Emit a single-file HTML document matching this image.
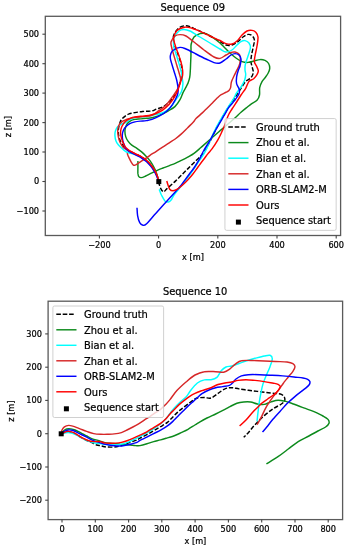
<!DOCTYPE html>
<html><head><meta charset="utf-8"><title>Trajectories</title>
<style>html,body{margin:0;padding:0;background:#fff}body{width:350px;height:550px;overflow:hidden}svg{display:block}</style></head>
<body>
<svg width="350" height="550" viewBox="0 0 350 550" font-family="'DejaVu Sans','Liberation Sans',sans-serif" fill="#000">
<style>text{stroke:#000;stroke-width:0.22px;paint-order:stroke}</style>
<rect width="350" height="550" fill="#fff"/>
<g fill="none" stroke-width="1.45" stroke-linejoin="round" stroke-linecap="butt">
<path d="M158.8 181.6C158.6 180.9 158.1 178.9 157.5 177.2C156.9 175.5 156.2 173.5 155.2 171.6C154.2 169.7 152.8 167.7 151.4 165.9C150.0 164.1 148.5 162.4 146.9 160.9C145.3 159.4 143.7 158.3 141.8 157.1C139.9 155.9 137.6 154.9 135.5 153.9C133.4 152.9 131.0 151.9 129.2 150.8C127.4 149.8 126.0 149.0 124.6 147.6C123.2 146.2 121.8 144.0 120.8 142.2C119.8 140.4 119.3 138.5 118.9 136.6C118.5 134.7 118.2 132.8 118.3 130.9C118.3 129.0 118.7 127.0 119.2 125.2C119.7 123.4 120.2 121.4 121.1 120.0C122.0 118.6 123.3 117.6 124.6 116.6C125.9 115.6 127.4 114.6 129.1 113.9C130.8 113.2 133.0 112.9 134.9 112.6C136.8 112.2 138.7 112.0 140.6 111.8C142.5 111.6 144.4 111.3 146.3 111.2C148.2 111.1 150.2 111.3 152.0 110.9C153.8 110.5 155.0 109.5 156.9 108.8C158.8 108.1 161.2 107.9 163.4 106.6C165.6 105.3 168.4 102.8 170.3 100.9C172.2 99.1 173.4 97.3 174.6 95.5C175.8 93.7 176.7 92.0 177.6 89.8C178.5 87.5 179.5 84.3 180.2 82.0C180.9 79.7 181.7 78.0 182.0 76.0C182.3 74.0 182.4 72.3 182.2 70.0C182.0 67.7 181.3 64.6 180.6 62.0C179.9 59.4 179.0 57.2 178.1 54.5C177.2 51.8 175.8 48.8 175.0 46.0C174.2 43.2 173.3 40.2 173.3 38.0C173.3 35.8 173.9 34.6 174.8 32.9C175.7 31.2 177.3 29.1 178.9 27.9C180.5 26.7 182.8 26.0 184.6 25.8C186.4 25.6 188.4 26.1 190.0 26.6C191.6 27.1 192.3 27.8 194.0 28.6C195.7 29.4 197.3 30.0 200.0 31.2C202.7 32.4 206.7 34.3 210.0 36.0C213.3 37.7 217.3 40.1 220.0 41.6C222.7 43.1 224.0 44.4 226.0 45.0C228.0 45.6 230.0 45.6 232.0 45.0C234.0 44.4 236.2 42.9 238.0 41.6C239.8 40.3 241.3 38.2 243.0 37.0C244.7 35.8 246.5 34.6 248.0 34.4C249.5 34.2 250.9 34.7 252.0 35.6C253.1 36.5 254.2 37.9 254.4 40.0C254.6 42.1 253.5 45.3 253.0 48.0C252.5 50.7 251.7 53.7 251.4 56.0C251.1 58.3 250.8 59.9 251.0 62.0C251.2 64.1 252.2 66.8 252.6 68.6C253.0 70.4 253.5 71.4 253.2 73.0C252.9 74.6 251.9 76.6 250.7 78.0C249.4 79.4 247.3 79.7 245.7 81.4C244.1 83.1 242.5 86.0 241.0 88.3C239.5 90.6 238.1 92.7 236.6 95.0C235.1 97.3 233.5 99.7 232.0 102.0C230.5 104.3 229.1 106.3 227.4 109.0C225.7 111.7 223.9 114.7 222.0 118.0C220.1 121.3 218.1 125.0 216.0 129.0C213.9 133.0 211.9 137.9 209.7 142.0C207.5 146.1 205.8 149.8 203.0 153.4C200.2 157.0 196.0 160.5 192.9 163.7C189.8 166.8 187.2 169.4 184.3 172.3C181.4 175.2 178.6 178.2 175.7 180.9C172.8 183.6 169.0 186.8 167.0 188.6C165.0 190.4 164.7 191.8 163.7 191.8C162.7 191.8 161.6 190.1 160.8 188.6C160.0 187.1 159.1 183.9 158.8 183.0" stroke="#000" stroke-dasharray="4.4 1.9"/>
<path d="M158.8 181.6C158.6 180.8 158.2 178.8 157.7 177.0C157.2 175.2 156.4 172.8 155.7 170.9C154.9 169.1 154.1 167.6 153.2 165.9C152.3 164.2 151.2 162.5 150.1 160.9C148.9 159.3 147.7 158.0 146.3 156.5C144.9 155.0 143.5 153.5 141.9 152.1C140.3 150.7 138.6 149.5 136.9 148.3C135.2 147.1 133.3 146.3 131.8 145.1C130.3 143.9 129.0 142.5 128.0 141.1C127.0 139.7 126.2 138.3 125.7 136.6C125.2 134.9 124.9 132.5 124.9 130.9C124.9 129.3 125.3 128.2 125.7 126.9C126.1 125.7 126.5 124.5 127.4 123.4C128.3 122.4 129.7 121.3 130.9 120.6C132.2 119.9 133.3 119.7 134.9 119.4C136.5 119.1 138.7 119.1 140.6 118.9C142.5 118.7 144.4 118.5 146.3 118.3C148.2 118.1 149.9 118.2 152.0 117.7C154.1 117.2 156.2 116.7 158.9 115.6C161.6 114.5 165.3 112.5 168.0 111.0C170.7 109.5 172.9 108.5 174.9 106.6C176.9 104.7 178.7 102.0 180.0 99.7C181.3 97.4 182.0 94.9 182.9 92.9C183.8 90.9 184.8 89.3 185.7 87.7C186.5 86.1 187.3 84.8 188.0 83.1C188.7 81.4 189.3 79.5 189.7 77.4C190.1 75.3 190.2 72.9 190.3 70.6C190.5 68.3 190.5 66.0 190.6 63.7C190.7 61.4 190.8 59.2 190.9 56.9C191.0 54.6 190.9 52.1 191.0 50.0C191.1 47.9 190.7 46.2 191.2 44.0C191.7 41.8 192.5 38.7 194.0 37.0C195.5 35.3 198.0 34.2 200.0 33.6C202.0 33.0 204.0 33.0 206.0 33.6C208.0 34.2 209.7 35.4 212.0 37.0C214.3 38.6 218.0 41.3 220.0 43.0C222.0 44.7 222.3 45.3 224.0 47.0C225.7 48.7 228.0 51.2 230.0 53.0C232.0 54.8 234.0 56.6 236.0 58.0C238.0 59.4 240.0 60.9 242.0 61.6C244.0 62.3 246.0 62.5 248.0 62.4C250.0 62.3 252.0 61.5 254.0 61.0C256.0 60.5 258.2 59.7 260.0 59.6C261.8 59.5 263.6 59.8 265.0 60.4C266.4 61.0 267.8 62.1 268.6 63.5C269.4 64.9 269.8 67.0 269.7 68.6C269.6 70.2 268.9 71.6 268.2 73.0C267.5 74.4 266.6 75.6 265.6 77.0C264.6 78.4 263.0 79.8 262.0 81.6C261.0 83.4 260.1 85.5 259.7 87.7C259.3 89.9 259.9 92.9 259.5 95.0C259.1 97.1 258.4 98.8 257.0 100.3C255.7 101.8 253.0 102.7 251.4 103.8C249.8 104.9 249.1 105.6 247.4 107.0C245.7 108.4 243.1 110.5 241.0 112.3C238.9 114.1 237.5 115.7 234.9 118.0C232.3 120.3 228.4 123.7 225.7 126.0C223.0 128.3 221.6 129.4 218.9 131.7C216.2 134.0 212.8 137.0 209.7 139.7C206.6 142.4 203.2 145.5 200.6 147.8C198.0 150.1 196.2 151.8 194.0 153.4C191.8 155.0 189.8 156.0 187.7 157.2C185.6 158.4 183.5 159.4 181.4 160.4C179.3 161.4 177.3 162.4 175.2 163.3C173.1 164.2 170.9 165.0 168.9 165.8C166.9 166.6 164.8 167.3 163.0 168.0C161.2 168.7 160.1 169.1 158.3 169.9C156.5 170.7 154.1 171.8 152.0 172.8C149.9 173.8 147.5 175.2 145.7 176.0C143.9 176.8 142.5 177.5 141.3 177.6C140.2 177.7 139.4 177.3 138.8 176.6C138.2 175.9 138.1 175.0 137.9 173.4C137.8 171.8 137.9 169.3 137.9 167.2C137.9 165.1 137.9 161.9 137.9 160.9" stroke="#0c8a1c"/>
<path d="M158.8 181.6C158.6 180.9 158.1 178.8 157.5 177.2C156.9 175.5 156.1 173.6 155.1 171.7C154.1 169.8 152.7 167.8 151.3 166.0C149.9 164.2 148.3 162.5 146.7 161.1C145.1 159.7 143.5 158.5 141.6 157.4C139.7 156.3 137.2 155.2 135.0 154.4C132.8 153.6 129.7 153.2 128.1 152.7C126.5 152.2 126.5 152.1 125.5 151.4C124.5 150.7 123.0 149.4 121.8 148.3C120.6 147.2 119.3 146.0 118.3 144.8C117.3 143.6 116.6 142.7 116.0 141.1C115.4 139.5 115.0 137.1 114.9 135.4C114.8 133.7 115.0 132.3 115.4 130.9C115.9 129.5 116.7 127.9 117.6 126.8C118.5 125.7 119.7 125.1 121.0 124.4C122.3 123.7 123.9 123.4 125.5 122.6C127.1 121.8 129.0 120.2 130.6 119.4C132.2 118.6 133.2 118.0 134.9 117.6C136.6 117.2 138.5 117.1 140.6 116.9C142.7 116.7 144.7 116.8 147.4 116.4C150.1 116.0 153.9 115.1 156.6 114.4C159.3 113.7 161.1 113.4 163.4 112.3C165.7 111.2 168.2 109.8 170.3 107.7C172.4 105.6 174.2 102.4 176.0 99.7C177.8 97.0 180.2 94.3 181.4 91.7C182.6 89.1 182.8 86.5 182.9 84.3C183.1 82.1 182.5 80.5 182.3 78.6C182.1 76.7 181.9 74.8 181.5 72.9C181.1 71.0 180.5 69.0 180.0 67.1C179.5 65.2 178.9 63.3 178.3 61.4C177.7 59.5 177.2 57.5 176.6 55.7C176.0 53.9 175.4 52.2 174.9 50.6C174.4 49.0 173.8 48.1 173.6 46.0C173.4 43.9 173.1 40.5 174.0 38.0C174.9 35.5 177.3 32.4 179.0 31.0C180.7 29.6 182.2 29.4 184.0 29.4C185.8 29.4 187.3 29.7 190.0 31.0C192.7 32.3 196.7 35.0 200.0 37.0C203.3 39.0 206.7 41.0 210.0 43.0C213.3 45.0 217.3 47.5 220.0 49.0C222.7 50.5 224.0 51.8 226.0 52.0C228.0 52.2 230.2 51.2 232.0 50.0C233.8 48.8 235.5 46.4 237.0 45.0C238.5 43.6 239.7 42.3 241.0 41.6C242.3 40.9 243.7 40.4 245.0 40.6C246.3 40.8 248.1 41.8 249.0 43.0C249.9 44.2 250.6 45.8 250.4 48.0C250.2 50.2 248.8 53.3 248.0 56.0C247.2 58.7 245.9 61.7 245.4 64.0C244.9 66.3 244.9 68.2 245.0 70.0C245.1 71.8 245.8 72.9 245.7 74.6C245.6 76.3 245.4 78.2 244.6 80.3C243.8 82.4 242.3 84.9 241.0 87.0C239.7 89.1 237.9 90.9 236.6 93.0C235.3 95.1 234.5 97.2 233.0 99.7C231.5 102.2 229.7 104.7 227.8 107.7C225.9 110.7 223.8 114.2 221.8 117.6C219.8 121.0 217.8 124.4 215.8 128.3C213.8 132.2 211.9 136.7 210.0 140.9C208.1 145.1 206.4 149.6 204.2 153.4C202.0 157.2 199.2 160.7 197.0 164.0C194.8 167.3 193.0 170.2 191.0 173.0C189.0 175.8 186.9 178.5 185.0 181.0C183.1 183.5 181.4 185.7 179.6 188.0C177.8 190.3 175.4 193.1 174.0 195.0C172.6 196.9 172.2 198.5 171.3 199.7C170.4 200.9 169.4 201.8 168.3 202.0C167.2 202.2 166.1 202.1 164.9 200.9C163.8 199.7 162.4 196.9 161.4 195.0C160.4 193.1 159.6 190.3 159.2 189.4" stroke="#00ffff"/>
<path d="M158.8 181.6C158.6 180.9 158.1 178.9 157.5 177.3C156.9 175.7 156.1 173.7 155.1 171.8C154.1 169.9 152.7 167.9 151.3 166.1C149.9 164.3 148.4 162.6 146.8 161.2C145.2 159.8 143.6 158.6 141.7 157.4C139.8 156.2 137.5 155.3 135.4 154.2C133.3 153.1 130.8 151.9 129.1 151.0C127.4 150.1 126.0 149.3 125.0 148.6C124.0 147.9 123.7 148.1 122.9 147.0C122.1 145.9 120.8 144.0 120.0 142.3C119.2 140.6 118.7 138.5 118.3 136.6C117.9 134.7 117.6 132.8 117.7 130.9C117.8 129.0 118.2 126.6 118.9 125.1C119.6 123.5 120.7 122.6 122.0 121.6C123.3 120.6 125.0 120.0 126.9 119.3C128.8 118.6 131.0 118.0 133.7 117.6C136.4 117.1 139.8 117.0 142.9 116.6C146.0 116.2 149.3 116.2 152.0 115.2C154.7 114.2 156.6 112.3 158.9 110.7C161.2 109.1 163.5 107.6 165.7 105.4C167.9 103.2 170.1 100.1 172.0 97.4C173.9 94.7 176.1 91.9 177.4 89.4C178.7 86.9 179.5 84.3 180.0 82.5C180.5 80.7 180.7 80.0 180.6 78.6C180.5 77.2 179.9 75.7 179.4 74.0C178.9 72.3 178.3 70.2 177.7 68.3C177.1 66.4 176.6 64.5 176.0 62.6C175.4 60.7 174.8 58.7 174.3 56.9C173.8 55.1 173.2 53.2 172.8 51.7C172.4 50.2 172.1 49.6 171.8 48.0C171.5 46.4 170.5 44.0 171.0 42.0C171.5 40.0 173.5 37.2 175.0 36.0C176.5 34.8 178.2 34.6 180.0 34.6C181.8 34.6 183.7 34.8 186.0 36.0C188.3 37.2 191.0 39.7 194.0 42.0C197.0 44.3 200.7 47.5 204.0 50.0C207.3 52.5 211.3 55.6 214.0 57.0C216.7 58.4 218.0 58.7 220.0 58.4C222.0 58.1 224.2 56.0 226.0 55.0C227.8 54.0 229.5 52.9 231.0 52.4C232.5 51.9 233.8 51.8 235.0 52.0C236.2 52.2 237.5 52.8 238.4 53.6C239.3 54.4 240.1 55.4 240.3 57.0C240.5 58.6 240.3 61.4 239.8 63.5C239.3 65.6 238.3 67.3 237.3 69.4C236.3 71.5 235.0 73.9 234.0 76.0C233.0 78.1 232.0 80.1 231.4 82.0C230.8 83.9 231.0 86.2 230.6 87.6C230.2 89.0 229.7 89.6 229.0 90.4C228.3 91.2 227.5 91.5 226.2 92.2C224.9 92.9 222.7 93.8 221.2 94.7C219.7 95.6 218.9 96.4 217.4 97.8C215.9 99.2 214.1 101.2 212.4 102.9C210.7 104.6 209.0 106.2 207.3 107.9C205.6 109.6 204.2 111.1 202.3 112.9C200.4 114.7 197.5 117.1 196.0 118.6C194.5 120.1 194.8 120.5 193.4 122.0C192.0 123.5 189.7 125.7 187.7 127.7C185.7 129.7 183.5 132.0 181.4 133.9C179.3 135.8 177.3 137.5 175.2 139.0C173.1 140.5 171.0 141.7 168.9 143.1C166.8 144.5 164.7 145.8 162.6 147.2C160.5 148.6 158.4 150.0 156.3 151.3C154.2 152.7 151.8 154.1 150.0 155.3C148.2 156.5 147.4 157.3 145.7 158.4C144.0 159.5 141.6 161.1 140.0 162.1C138.4 163.1 137.2 164.1 136.2 164.6C135.1 165.1 134.5 165.7 133.7 165.3C132.9 164.9 132.0 163.5 131.2 162.1C130.4 160.7 129.4 158.6 128.7 157.1C128.0 155.6 127.4 153.8 127.1 153.1" stroke="#d62728"/>
<path d="M158.8 181.6C158.5 180.9 157.9 179.1 157.2 177.5C156.5 175.9 155.8 173.8 154.7 172.0C153.6 170.2 152.3 168.2 150.9 166.4C149.5 164.7 148.0 162.9 146.4 161.5C144.8 160.1 143.2 159.0 141.3 157.8C139.4 156.7 137.1 155.7 135.0 154.6C132.9 153.5 130.6 152.5 129.0 151.4C127.4 150.3 126.2 148.9 125.5 148.0C124.8 147.1 125.0 146.8 124.6 145.7C124.2 144.5 123.3 142.8 122.9 141.1C122.5 139.4 122.2 137.2 122.3 135.4C122.4 133.6 122.7 131.8 123.4 130.3C124.1 128.8 125.1 127.5 126.3 126.3C127.5 125.1 128.9 124.1 130.3 123.4C131.7 122.7 133.2 122.3 134.9 121.9C136.6 121.5 138.7 121.3 140.6 121.1C142.5 120.9 144.4 120.9 146.3 120.6C148.2 120.3 149.7 120.2 152.0 119.4C154.3 118.6 157.5 117.1 160.0 115.7C162.5 114.3 164.8 112.9 166.9 111.0C169.0 109.1 170.8 107.0 172.6 104.3C174.3 101.6 176.5 97.5 177.4 95.0C178.3 92.5 178.1 90.8 178.2 89.2C178.2 87.6 178.0 87.0 177.7 85.4C177.4 83.8 177.1 81.6 176.6 79.7C176.1 77.8 175.5 75.9 174.9 74.0C174.3 72.1 173.7 70.2 173.1 68.3C172.5 66.4 171.9 64.3 171.4 62.6C170.9 60.9 170.4 59.5 170.3 58.0C170.2 56.5 170.4 54.7 170.9 53.4C171.4 52.1 172.1 51.0 173.6 50.0C175.1 49.0 177.9 47.6 180.0 47.4C182.1 47.2 183.3 47.9 186.0 49.0C188.7 50.1 192.7 52.3 196.0 54.0C199.3 55.7 203.0 57.6 206.0 59.0C209.0 60.4 211.7 61.9 214.0 62.6C216.3 63.3 218.0 63.6 220.0 63.0C222.0 62.4 224.2 60.3 226.0 59.0C227.8 57.7 229.5 55.9 231.0 55.0C232.5 54.1 233.7 53.6 235.0 53.6C236.3 53.6 238.0 54.1 239.0 55.0C240.0 55.9 240.8 57.2 241.0 59.0C241.2 60.8 240.4 64.2 240.0 66.0C239.6 67.8 239.0 68.2 238.4 70.0C237.8 71.8 236.9 74.6 236.6 76.9C236.3 79.2 236.1 81.6 236.6 83.7C237.1 85.8 238.9 87.7 239.3 89.4C239.7 91.1 239.7 92.1 238.9 94.0C238.1 95.9 236.0 98.6 234.3 100.9C232.6 103.2 230.3 105.2 228.6 107.7C226.9 110.2 226.0 112.3 224.0 115.7C222.0 119.1 219.0 124.1 216.6 128.3C214.2 132.5 211.8 137.3 209.7 140.9C207.6 144.5 205.7 147.1 204.0 150.0C202.3 152.9 201.3 155.8 199.7 158.6C198.1 161.4 196.3 164.4 194.6 167.0C192.9 169.6 191.1 171.7 189.4 174.0C187.7 176.3 186.1 178.5 184.3 180.9C182.5 183.3 181.5 185.0 178.6 188.3C175.7 191.6 170.8 196.7 167.0 200.9C163.2 205.1 159.1 209.6 155.7 213.4C152.3 217.2 148.7 221.7 146.6 223.7C144.5 225.7 144.2 225.5 143.0 225.3C141.8 225.1 140.6 224.2 139.7 222.6C138.8 221.0 138.0 218.2 137.6 215.7C137.2 213.2 137.1 209.0 137.0 207.7" stroke="#0000ff"/>
<path d="M158.8 181.6C158.6 180.9 158.3 178.9 157.7 177.2C157.1 175.5 156.4 173.5 155.4 171.6C154.4 169.7 153.0 167.6 151.6 165.8C150.2 164.0 148.7 162.3 147.1 160.8C145.5 159.3 143.9 158.2 142.0 157.0C140.1 155.8 137.8 154.9 135.7 153.8C133.6 152.7 131.1 151.7 129.4 150.6C127.7 149.5 126.7 148.6 125.7 147.4C124.7 146.2 124.1 144.8 123.4 143.4C122.7 142.0 122.2 140.6 121.7 138.9C121.2 137.2 120.7 134.8 120.6 133.1C120.5 131.4 120.7 130.0 121.1 128.6C121.5 127.2 122.1 125.8 122.9 124.6C123.7 123.3 124.5 122.1 125.7 121.1C126.9 120.0 128.8 119.0 130.3 118.3C131.8 117.6 133.2 117.2 134.9 116.9C136.6 116.6 138.7 116.5 140.6 116.3C142.5 116.1 144.4 116.1 146.3 115.8C148.2 115.5 150.4 115.0 152.0 114.6C153.6 114.2 154.3 114.2 156.0 113.5C157.7 112.8 160.1 111.8 162.3 110.3C164.5 108.8 166.9 106.8 169.0 104.5C171.1 102.2 173.4 98.8 174.9 96.3C176.4 93.8 177.1 92.2 178.0 89.8C178.9 87.4 179.8 84.3 180.6 82.0C181.3 79.7 182.2 78.0 182.5 76.0C182.8 74.0 182.8 72.3 182.6 70.0C182.3 67.7 181.7 64.6 181.0 62.0C180.3 59.4 179.4 57.2 178.5 54.5C177.6 51.8 176.2 48.8 175.4 46.0C174.6 43.2 173.3 40.6 173.6 38.0C173.9 35.4 175.2 32.4 177.0 30.6C178.8 28.8 181.9 27.6 184.4 27.2C186.9 26.8 189.4 27.5 192.0 28.2C194.6 28.9 197.0 30.0 200.0 31.3C203.0 32.6 206.7 34.5 210.0 36.0C213.3 37.5 217.3 39.2 220.0 40.5C222.7 41.8 224.0 43.0 226.0 43.6C228.0 44.2 230.2 44.4 232.0 44.0C233.8 43.6 235.3 42.5 237.0 41.0C238.7 39.5 240.3 36.7 242.0 35.0C243.7 33.3 245.3 31.8 247.0 31.0C248.7 30.2 250.5 30.2 252.0 30.4C253.5 30.6 255.0 31.3 256.0 32.4C257.0 33.5 257.8 34.7 258.0 37.0C258.2 39.3 257.5 42.8 257.0 46.0C256.5 49.2 255.4 53.3 255.0 56.0C254.6 58.7 254.1 60.3 254.4 62.0C254.7 63.7 256.0 64.8 256.6 66.3C257.2 67.8 258.2 69.5 258.3 70.9C258.4 72.3 257.8 73.3 257.0 74.6C256.2 75.9 255.0 77.6 253.7 78.7C252.4 79.8 250.3 79.8 249.0 81.4C247.7 83.0 247.0 86.0 245.7 88.3C244.4 90.6 242.5 92.7 241.0 95.0C239.5 97.3 238.1 99.7 236.6 102.0C235.1 104.3 233.4 106.7 232.0 109.0C230.6 111.3 229.3 113.0 228.0 116.0C226.7 119.0 225.7 123.0 224.0 127.0C222.3 130.9 220.0 136.0 218.0 139.7C216.0 143.3 213.7 146.6 212.0 148.9C210.3 151.2 209.5 151.7 208.0 153.6C206.5 155.5 204.7 158.1 203.0 160.3C201.3 162.5 199.7 164.7 198.0 167.0C196.3 169.3 194.6 171.8 192.9 174.0C191.2 176.2 189.4 178.2 187.7 180.0C186.0 181.8 184.3 183.5 182.6 185.0C180.9 186.5 179.0 188.2 177.4 189.2C175.8 190.2 174.3 190.8 173.0 190.8C171.7 190.8 170.5 190.2 169.7 189.2C168.9 188.2 168.5 186.4 168.0 185.0C167.5 183.6 167.0 181.7 166.8 181.0" stroke="#ff0000"/>
<rect x="156.3" y="179.1" width="5" height="5" fill="#000" stroke="none"/>
</g>
<rect x="224.95" y="118.55" width="111.20" height="111.80" rx="1.6" fill="#fff" fill-opacity="0.8" stroke="#c8c8c8" stroke-opacity="0.85" stroke-width="1"/>
<path d="M228.3 127.0h19.2" stroke="#000" stroke-width="1.45" stroke-dasharray="4.6 1.8"/><text x="256.1" y="130.7" font-size="9.90">Ground truth</text>
<path d="M228.3 142.6h20.2" stroke="#0c8a1c" stroke-width="1.45"/><text x="256.1" y="146.3" font-size="9.90">Zhou et al.</text>
<path d="M228.3 158.2h20.2" stroke="#00ffff" stroke-width="1.45"/><text x="256.1" y="161.9" font-size="9.90">Bian et al.</text>
<path d="M228.3 173.8h20.2" stroke="#d62728" stroke-width="1.45"/><text x="256.1" y="177.5" font-size="9.90">Zhan et al.</text>
<path d="M228.3 189.4h20.2" stroke="#0000ff" stroke-width="1.45"/><text x="256.1" y="193.1" font-size="9.90">ORB-SLAM2-M</text>
<path d="M228.3 205.0h20.2" stroke="#ff0000" stroke-width="1.45"/><text x="256.1" y="208.7" font-size="9.90">Ours</text>
<rect x="235.9" y="219.6" width="5" height="5" fill="#000"/><text x="256.1" y="224.3" font-size="9.90">Sequence start</text>
<rect x="45.30" y="16.30" width="295.30" height="219.20" fill="none" stroke="#5a5a5a" stroke-width="1.3"/>
<path d="M99.4 235.5v2.9" stroke="#444" stroke-width="1.1"/><text x="99.4" y="248.0" text-anchor="middle" font-size="8.2">−200</text>
<path d="M158.6 235.5v2.9" stroke="#444" stroke-width="1.1"/><text x="158.6" y="248.0" text-anchor="middle" font-size="8.2">0</text>
<path d="M217.8 235.5v2.9" stroke="#444" stroke-width="1.1"/><text x="217.8" y="248.0" text-anchor="middle" font-size="8.2">200</text>
<path d="M277.0 235.5v2.9" stroke="#444" stroke-width="1.1"/><text x="277.0" y="248.0" text-anchor="middle" font-size="8.2">400</text>
<path d="M336.2 235.5v2.9" stroke="#444" stroke-width="1.1"/><text x="336.2" y="248.0" text-anchor="middle" font-size="8.2">600</text>
<path d="M45.3 34.2h-2.9" stroke="#444" stroke-width="1.1"/><text x="39.1" y="37.1" text-anchor="end" font-size="8.2">500</text>
<path d="M45.3 63.7h-2.9" stroke="#444" stroke-width="1.1"/><text x="39.1" y="66.6" text-anchor="end" font-size="8.2">400</text>
<path d="M45.3 93.1h-2.9" stroke="#444" stroke-width="1.1"/><text x="39.1" y="96.0" text-anchor="end" font-size="8.2">300</text>
<path d="M45.3 122.6h-2.9" stroke="#444" stroke-width="1.1"/><text x="39.1" y="125.5" text-anchor="end" font-size="8.2">200</text>
<path d="M45.3 152.0h-2.9" stroke="#444" stroke-width="1.1"/><text x="39.1" y="154.9" text-anchor="end" font-size="8.2">100</text>
<path d="M45.3 181.5h-2.9" stroke="#444" stroke-width="1.1"/><text x="39.1" y="184.4" text-anchor="end" font-size="8.2">0</text>
<path d="M45.3 211.0h-2.9" stroke="#444" stroke-width="1.1"/><text x="39.1" y="213.9" text-anchor="end" font-size="8.2">−100</text>
<text x="192.8" y="10.6" text-anchor="middle" font-size="9.9">Sequence 09</text>
<text x="193.0" y="259.6" text-anchor="middle" font-size="8.2">x [m]</text>
<text transform="translate(10.8 126.6) rotate(-90)" text-anchor="middle" font-size="8.2">z [m]</text>
<g fill="none" stroke-width="1.45" stroke-linejoin="round" stroke-linecap="butt">
<path d="M61.2 433.8C61.7 433.6 62.9 432.9 64.0 432.6C65.1 432.3 66.6 431.8 68.0 431.8C69.4 431.8 71.0 432.1 72.5 432.6C74.0 433.1 75.6 434.0 77.0 434.8C78.4 435.6 79.5 436.5 81.0 437.4C82.5 438.3 84.2 439.2 85.9 440.0C87.6 440.8 89.1 441.3 90.9 442.1C92.7 442.9 94.9 444.4 96.6 445.0C98.3 445.6 99.4 445.5 100.9 445.8C102.4 446.1 103.7 446.7 105.7 446.9C107.7 447.1 110.8 447.2 112.9 447.1C115.1 447.0 116.8 446.8 118.6 446.4C120.4 446.0 121.9 445.4 123.6 444.8C125.3 444.2 126.6 443.6 128.6 442.9C130.6 442.2 133.8 441.2 135.7 440.4C137.6 439.6 138.1 439.2 140.0 438.2C141.9 437.2 144.6 435.9 146.9 434.6C149.2 433.4 151.4 432.0 153.7 430.7C156.0 429.4 158.3 428.1 160.6 426.7C162.9 425.3 165.4 424.0 167.4 422.4C169.4 420.8 170.9 419.0 172.6 417.3C174.3 415.6 176.0 413.7 177.7 412.1C179.4 410.5 180.9 409.5 182.9 407.9C184.9 406.3 187.8 404.1 189.7 402.7C191.5 401.3 192.7 400.4 194.0 399.6C195.3 398.8 195.7 398.4 197.4 398.0C199.1 397.6 202.0 397.5 204.3 397.5C206.6 397.5 208.7 398.7 211.0 398.0C213.3 397.3 215.7 394.9 218.0 393.4C220.3 391.9 222.6 389.8 224.9 388.9C227.2 387.9 229.3 387.7 231.7 387.7C234.0 387.7 236.2 388.5 239.0 388.9C241.8 389.3 245.2 389.9 248.3 390.3C251.4 390.7 254.3 391.0 257.4 391.4C260.4 391.8 263.6 392.1 266.6 392.5C269.7 392.9 273.2 393.2 275.7 393.5C278.2 393.8 279.9 393.8 281.4 394.4C282.8 395.0 283.9 396.2 284.4 397.3C284.9 398.4 285.1 399.6 284.6 400.7C284.1 401.8 283.3 402.7 281.4 404.0C279.5 405.3 276.2 406.8 273.4 408.7C270.5 410.6 267.4 412.9 264.3 415.6C261.2 418.3 257.7 421.9 255.0 424.7C252.3 427.5 250.2 430.6 248.3 432.7C246.4 434.8 244.5 436.5 243.7 437.3" stroke="#000" stroke-dasharray="4.4 1.9"/>
<path d="M61.2 433.8C61.6 433.3 62.8 431.5 63.7 430.7C64.6 429.9 65.4 429.3 66.6 429.0C67.8 428.7 69.5 428.7 70.9 428.9C72.3 429.1 73.4 429.3 75.1 430.0C76.8 430.7 79.0 431.9 80.9 432.9C82.8 433.9 84.7 435.0 86.6 436.0C88.5 437.0 90.4 438.2 92.3 438.9C94.2 439.6 96.2 439.9 98.0 440.4C99.8 440.9 101.0 441.6 103.0 442.1C105.0 442.6 107.2 443.0 110.0 443.3C112.8 443.6 116.9 443.9 120.0 444.2C123.1 444.4 126.0 444.6 128.6 444.8C131.2 445.0 133.8 445.5 135.7 445.6C137.6 445.7 138.1 445.9 140.0 445.6C141.9 445.3 144.6 444.5 146.9 443.8C149.2 443.1 151.4 442.2 153.7 441.6C156.0 441.0 158.3 440.5 160.6 439.9C162.9 439.3 165.1 438.6 167.4 437.9C169.7 437.2 172.0 436.7 174.3 435.8C176.6 434.9 178.8 433.8 181.1 432.7C183.4 431.6 185.7 430.6 188.0 429.3C190.3 428.0 192.9 426.2 194.9 425.0C196.9 423.8 198.0 423.0 200.0 421.8C202.0 420.6 204.4 419.3 207.0 418.0C209.6 416.7 212.7 415.4 215.7 414.0C218.7 412.6 222.5 410.6 224.9 409.4C227.3 408.2 228.0 407.6 230.0 406.6C232.0 405.6 234.6 404.1 236.9 403.3C239.2 402.5 241.4 402.2 243.7 402.0C246.0 401.8 248.3 401.7 250.6 402.0C252.9 402.3 255.1 403.6 257.4 404.0C259.7 404.4 262.0 404.8 264.3 404.4C266.6 404.0 268.7 402.6 271.0 401.9C273.3 401.2 275.6 400.3 278.0 400.2C280.4 400.1 283.1 400.8 285.7 401.4C288.3 402.0 290.4 402.9 293.4 404.0C296.4 405.1 300.3 406.6 303.7 407.9C307.1 409.2 310.8 410.3 314.0 411.7C317.2 413.1 320.7 414.7 323.0 416.0C325.3 417.3 327.0 418.2 328.0 419.4C329.0 420.6 329.4 422.0 329.0 423.3C328.6 424.6 327.5 425.7 325.6 427.0C323.8 428.3 320.7 429.5 317.9 431.0C315.1 432.5 312.1 434.3 308.9 436.0C305.7 437.7 302.0 439.1 298.6 441.3C295.2 443.5 291.7 446.4 288.3 449.0C284.9 451.6 281.6 454.2 278.0 456.7C274.4 459.2 268.3 462.7 266.4 463.9" stroke="#0c8a1c"/>
<path d="M61.2 433.8C61.7 433.7 63.3 433.2 64.4 433.0C65.5 432.8 66.7 432.6 68.0 432.6C69.3 432.6 70.9 432.8 72.3 433.2C73.7 433.6 74.9 434.1 76.6 435.0C78.3 435.9 80.4 437.4 82.3 438.4C84.2 439.4 86.1 440.3 88.0 441.0C89.9 441.7 91.7 442.4 93.7 442.8C95.7 443.2 98.0 443.3 100.0 443.6C102.0 443.9 104.0 444.4 106.0 444.6C108.0 444.8 109.9 445.0 112.0 445.0C114.1 445.0 116.5 444.8 118.6 444.6C120.6 444.4 122.4 444.1 124.3 443.6C126.2 443.1 128.1 442.2 130.0 441.4C131.9 440.6 134.0 439.4 135.7 438.6C137.4 437.8 138.1 437.4 140.0 436.4C141.9 435.4 144.6 434.1 146.9 432.8C149.2 431.5 151.4 430.1 153.7 428.6C156.0 427.1 158.6 425.4 160.6 423.8C162.6 422.2 164.1 420.7 165.7 419.0C167.3 417.3 168.6 415.2 170.0 413.4C171.4 411.5 172.6 409.8 174.3 407.9C176.0 406.0 178.0 404.1 180.0 402.2C182.0 400.3 184.5 398.6 186.3 396.7C188.1 394.8 188.8 392.8 190.6 390.5C192.4 388.2 195.1 384.8 197.4 383.0C199.7 381.2 202.0 380.4 204.3 379.9C206.6 379.3 208.9 380.1 211.0 379.7C213.1 379.3 215.2 378.9 216.9 377.4C218.6 375.9 219.9 372.3 221.4 370.6C222.9 368.9 224.3 367.8 226.0 367.0C227.7 366.2 229.6 366.6 231.7 366.0C233.8 365.4 236.2 364.5 238.6 363.7C241.0 362.9 243.3 361.9 246.0 361.0C248.7 360.1 251.9 359.1 255.0 358.3C258.1 357.5 261.8 356.5 264.3 356.0C266.8 355.5 268.7 354.9 270.0 355.3C271.3 355.8 272.3 356.8 272.3 358.7C272.3 360.6 270.9 364.0 270.0 366.7C269.1 369.4 267.8 371.8 266.6 374.7C265.4 377.6 263.9 380.8 263.0 383.9C262.1 386.9 261.5 390.0 260.9 393.0C260.3 396.0 259.7 399.3 259.3 402.0C258.9 404.7 258.7 406.4 258.4 409.0C258.1 411.6 257.6 415.8 257.4 417.9C257.2 419.9 257.1 420.7 257.0 421.3" stroke="#00ffff"/>
<path d="M61.2 433.8C61.3 433.2 61.5 431.1 62.0 430.0C62.5 428.9 63.3 427.7 64.4 426.9C65.5 426.1 67.2 425.5 68.7 425.4C70.2 425.3 71.9 425.9 73.7 426.4C75.5 426.9 77.2 427.8 79.4 428.6C81.6 429.4 84.2 430.6 86.6 431.4C89.0 432.2 91.3 433.1 93.7 433.6C96.1 434.1 98.7 434.2 100.9 434.3C103.1 434.4 104.8 434.4 107.0 434.3C109.2 434.2 111.9 434.2 114.3 433.9C116.7 433.6 119.3 433.2 121.4 432.6C123.5 432.0 125.1 430.9 127.0 430.0C128.9 429.1 131.0 428.0 132.9 427.0C134.8 426.0 136.3 425.2 138.6 423.8C140.9 422.4 144.4 420.0 146.9 418.4C149.4 416.8 151.4 415.4 153.7 413.9C156.0 412.4 158.6 411.0 160.6 409.4C162.6 407.8 164.1 406.0 165.7 404.4C167.3 402.8 168.1 401.9 170.0 399.6C171.9 397.3 174.2 393.4 176.9 390.5C179.6 387.6 183.0 384.6 186.0 382.0C189.0 379.4 191.9 376.7 195.0 375.0C198.1 373.3 200.9 372.2 204.3 371.7C207.8 371.1 212.5 371.6 215.7 371.7C218.9 371.8 221.4 372.6 223.7 372.2C226.0 371.8 227.4 370.8 229.4 369.4C231.4 368.0 233.7 365.2 235.7 363.8C237.7 362.4 238.5 361.2 241.4 360.7C244.3 360.1 249.1 360.4 252.9 360.5C256.7 360.6 260.5 360.8 264.3 361.0C268.1 361.2 271.9 361.3 275.7 361.5C279.5 361.7 284.1 361.6 287.0 362.0C289.9 362.4 291.6 362.9 292.9 363.7C294.2 364.5 295.0 365.4 295.0 366.7C295.0 368.0 294.0 369.6 292.9 371.3C291.8 373.0 289.8 375.1 288.3 377.0C286.8 378.9 285.2 380.6 283.7 382.7C282.1 384.8 280.7 387.3 279.0 389.6C277.3 391.9 275.5 393.6 273.4 396.4C271.3 399.2 268.7 402.8 266.6 406.4C264.5 410.0 262.5 414.8 260.9 417.9C259.3 420.9 257.6 423.6 257.0 424.7" stroke="#d62728"/>
<path d="M61.2 433.8C61.7 433.4 63.3 432.0 64.4 431.4C65.5 430.8 66.7 430.2 68.0 430.0C69.3 429.8 70.9 429.9 72.3 430.3C73.7 430.7 74.9 431.3 76.6 432.1C78.3 432.9 80.4 434.0 82.3 435.0C84.2 436.0 86.1 436.9 88.0 437.9C89.9 438.8 91.8 439.9 93.7 440.7C95.6 441.5 97.5 442.0 99.4 442.6C101.3 443.2 103.5 443.8 105.0 444.2C106.5 444.6 107.0 444.8 108.6 445.0C110.1 445.2 112.4 445.5 114.3 445.7C116.2 445.9 118.1 446.1 120.0 446.0C121.9 445.9 123.8 445.5 125.7 445.2C127.6 444.9 129.5 444.5 131.4 444.0C133.3 443.5 135.6 443.0 137.0 442.4C138.4 441.8 138.3 441.3 140.0 440.4C141.7 439.5 144.6 438.3 146.9 437.2C149.2 436.1 151.4 434.8 153.7 433.6C156.0 432.4 158.3 431.4 160.6 430.1C162.9 428.8 165.4 427.3 167.4 425.9C169.4 424.5 170.9 423.2 172.6 421.6C174.3 420.0 176.0 418.1 177.7 416.4C179.4 414.7 181.2 413.0 182.9 411.3C184.6 409.6 186.3 407.7 188.0 406.1C189.7 404.5 191.5 403.0 193.1 401.6C194.7 400.2 196.0 398.8 197.5 397.5C199.0 396.2 200.1 394.9 202.0 393.6C203.9 392.4 206.6 391.0 208.9 390.0C211.2 389.0 213.4 388.3 215.7 387.7C218.0 387.1 220.3 387.0 222.6 386.6C224.9 386.2 227.8 386.0 229.4 385.4C231.1 384.8 231.4 384.0 232.5 383.0C233.6 382.0 234.2 380.5 235.7 379.3C237.2 378.1 239.3 376.7 241.4 375.9C243.5 375.1 245.2 374.9 248.3 374.7C251.4 374.5 255.9 374.6 259.7 374.7C263.5 374.8 267.2 375.0 271.0 375.2C274.8 375.4 278.8 375.6 282.6 375.9C286.4 376.2 290.6 376.6 294.0 377.0C297.4 377.4 300.7 377.6 303.0 378.0C305.3 378.4 306.6 378.7 307.7 379.3C308.8 379.9 309.6 380.7 309.9 381.6C310.1 382.5 309.9 383.7 309.2 384.8C308.4 385.9 306.7 387.3 305.4 388.4C304.1 389.5 303.2 389.9 301.4 391.4C299.5 392.8 296.7 395.1 294.3 397.1C291.9 399.1 289.5 401.2 287.1 403.6C284.7 406.0 282.4 408.8 280.0 411.4C277.6 414.0 275.1 416.7 272.9 419.3C270.7 421.9 268.5 424.9 266.8 427.0C265.1 429.1 263.2 431.2 262.5 432.0" stroke="#0000ff"/>
<path d="M61.2 433.8C61.6 433.6 62.6 433.1 63.7 432.7C64.8 432.3 66.6 431.5 68.0 431.4C69.4 431.3 70.9 431.6 72.3 432.1C73.7 432.6 74.9 433.3 76.6 434.3C78.3 435.3 80.4 436.9 82.3 437.9C84.2 438.9 86.1 439.9 88.0 440.5C89.9 441.1 91.7 441.4 93.7 441.6C95.7 441.8 98.2 441.4 100.0 441.6C101.8 441.8 102.6 442.6 104.3 442.9C106.0 443.2 108.1 443.3 110.0 443.3C111.9 443.3 113.8 443.2 115.7 443.1C117.6 443.0 119.5 442.8 121.4 442.4C123.3 442.0 125.1 441.4 127.0 440.7C128.9 440.0 130.7 439.3 132.9 438.4C135.1 437.5 137.7 436.3 140.0 435.2C142.3 434.1 144.6 433.1 146.9 431.8C149.2 430.5 151.4 429.0 153.7 427.6C156.0 426.2 158.6 424.7 160.6 423.3C162.6 421.9 164.1 420.6 165.7 419.0C167.3 417.4 168.6 415.5 170.0 413.9C171.4 412.3 172.7 411.2 174.3 409.6C175.9 408.0 177.7 406.0 179.4 404.4C181.1 402.8 182.9 401.4 184.6 400.1C186.3 398.8 188.0 397.5 189.7 396.4C191.4 395.3 192.9 394.4 195.0 393.4C197.1 392.4 199.3 391.6 202.0 390.6C204.7 389.7 208.3 388.7 211.0 387.7C213.7 386.7 215.7 385.3 218.0 384.5C220.3 383.7 222.6 383.4 224.9 383.0C227.2 382.6 229.5 382.4 231.7 382.0C233.9 381.6 235.6 380.8 238.0 380.4C240.4 380.0 243.2 379.7 246.0 379.7C248.8 379.7 251.9 380.1 255.0 380.4C258.1 380.7 261.2 381.1 264.3 381.6C267.4 382.1 271.1 382.8 273.4 383.2C275.7 383.6 276.9 383.7 278.0 384.3C279.1 384.9 280.3 385.5 280.3 386.6C280.3 387.7 279.1 389.3 278.0 390.7C276.9 392.1 275.1 393.6 273.4 395.0C271.7 396.4 269.6 397.7 267.7 399.0C265.8 400.3 263.7 401.6 262.0 403.0C260.3 404.4 258.9 406.1 257.4 407.6C255.9 409.1 254.8 409.9 252.9 412.0C251.0 414.1 248.2 417.7 246.0 420.0C243.8 422.3 240.7 424.9 239.6 425.9" stroke="#ff0000"/>
<rect x="58.7" y="431.3" width="5" height="5" fill="#000" stroke="none"/>
</g>
<rect x="52.90" y="306.00" width="110.70" height="111.50" rx="1.6" fill="#fff" fill-opacity="0.8" stroke="#c8c8c8" stroke-opacity="0.85" stroke-width="1"/>
<path d="M56.3 314.3h19.2" stroke="#000" stroke-width="1.45" stroke-dasharray="4.6 1.8"/><text x="84.1" y="318.0" font-size="9.90">Ground truth</text>
<path d="M56.3 329.8h20.2" stroke="#0c8a1c" stroke-width="1.45"/><text x="84.1" y="333.5" font-size="9.90">Zhou et al.</text>
<path d="M56.3 345.3h20.2" stroke="#00ffff" stroke-width="1.45"/><text x="84.1" y="349.0" font-size="9.90">Bian et al.</text>
<path d="M56.3 360.8h20.2" stroke="#d62728" stroke-width="1.45"/><text x="84.1" y="364.5" font-size="9.90">Zhan et al.</text>
<path d="M56.3 376.3h20.2" stroke="#0000ff" stroke-width="1.45"/><text x="84.1" y="380.0" font-size="9.90">ORB-SLAM2-M</text>
<path d="M56.3 391.8h20.2" stroke="#ff0000" stroke-width="1.45"/><text x="84.1" y="395.5" font-size="9.90">Ours</text>
<rect x="63.9" y="406.3" width="5" height="5" fill="#000"/><text x="84.1" y="411.0" font-size="9.90">Sequence start</text>
<rect x="48.10" y="301.20" width="294.50" height="218.40" fill="none" stroke="#5a5a5a" stroke-width="1.3"/>
<path d="M62.0 519.6v2.9" stroke="#444" stroke-width="1.1"/><text x="62.0" y="532.1" text-anchor="middle" font-size="8.2">0</text>
<path d="M95.3 519.6v2.9" stroke="#444" stroke-width="1.1"/><text x="95.3" y="532.1" text-anchor="middle" font-size="8.2">100</text>
<path d="M128.6 519.6v2.9" stroke="#444" stroke-width="1.1"/><text x="128.6" y="532.1" text-anchor="middle" font-size="8.2">200</text>
<path d="M161.8 519.6v2.9" stroke="#444" stroke-width="1.1"/><text x="161.8" y="532.1" text-anchor="middle" font-size="8.2">300</text>
<path d="M195.1 519.6v2.9" stroke="#444" stroke-width="1.1"/><text x="195.1" y="532.1" text-anchor="middle" font-size="8.2">400</text>
<path d="M228.4 519.6v2.9" stroke="#444" stroke-width="1.1"/><text x="228.4" y="532.1" text-anchor="middle" font-size="8.2">500</text>
<path d="M261.7 519.6v2.9" stroke="#444" stroke-width="1.1"/><text x="261.7" y="532.1" text-anchor="middle" font-size="8.2">600</text>
<path d="M295.0 519.6v2.9" stroke="#444" stroke-width="1.1"/><text x="295.0" y="532.1" text-anchor="middle" font-size="8.2">700</text>
<path d="M328.2 519.6v2.9" stroke="#444" stroke-width="1.1"/><text x="328.2" y="532.1" text-anchor="middle" font-size="8.2">800</text>
<path d="M48.1 333.9h-2.9" stroke="#444" stroke-width="1.1"/><text x="41.9" y="336.8" text-anchor="end" font-size="8.2">300</text>
<path d="M48.1 367.2h-2.9" stroke="#444" stroke-width="1.1"/><text x="41.9" y="370.1" text-anchor="end" font-size="8.2">200</text>
<path d="M48.1 400.4h-2.9" stroke="#444" stroke-width="1.1"/><text x="41.9" y="403.3" text-anchor="end" font-size="8.2">100</text>
<path d="M48.1 433.7h-2.9" stroke="#444" stroke-width="1.1"/><text x="41.9" y="436.6" text-anchor="end" font-size="8.2">0</text>
<path d="M48.1 467.0h-2.9" stroke="#444" stroke-width="1.1"/><text x="41.9" y="469.9" text-anchor="end" font-size="8.2">−100</text>
<path d="M48.1 500.2h-2.9" stroke="#444" stroke-width="1.1"/><text x="41.9" y="503.1" text-anchor="end" font-size="8.2">−200</text>
<text x="195.2" y="294.6" text-anchor="middle" font-size="9.9">Sequence 10</text>
<text x="195.4" y="543.6" text-anchor="middle" font-size="8.2">x [m]</text>
<text transform="translate(13.6 411.1) rotate(-90)" text-anchor="middle" font-size="8.2">z [m]</text>
</svg>
</body></html>
